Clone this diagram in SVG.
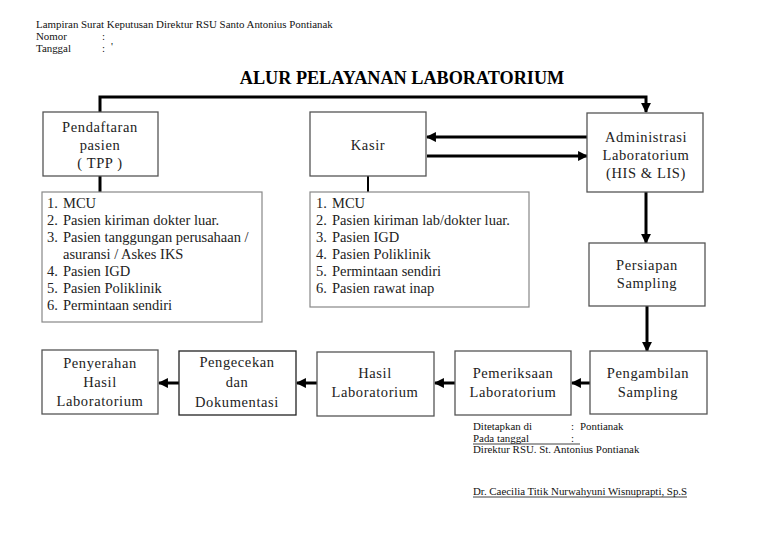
<svg xmlns="http://www.w3.org/2000/svg" width="768" height="543" viewBox="0 0 768 543">
<style>
.hd{font-family:"Liberation Serif",serif;font-size:10.9px;fill:#111}
.ft{font-family:"Liberation Serif",serif;font-size:10.9px;fill:#111}
.title{font-family:"Liberation Serif",serif;font-size:18.2px;font-weight:bold;fill:#000}
.box{fill:#fff;stroke:#555;stroke-width:1.3}
.lst{fill:#fff;stroke:#888;stroke-width:1.2}
.t{font-family:"Liberation Serif",serif;font-size:14.5px;fill:#222;text-anchor:middle;letter-spacing:0.6px}
.li{font-family:"Liberation Serif",serif;font-size:14.5px;fill:#222}
.c{fill:none;stroke:#000;stroke-width:3}
.thin{fill:none;stroke:#000;stroke-width:2}
</style>
<defs>
<marker id="ah" viewBox="0 0 10 10" refX="9" refY="5" markerWidth="3.3" markerHeight="3.3" orient="auto" markerUnits="strokeWidth">
<path d="M0,0 L10,5 L0,10 z" fill="#000"/>
</marker>
</defs>
<rect width="768" height="543" fill="#fff"/>
<g id="header">
<text class="hd" x="36" y="28">Lampiran Surat Keputusan Direktur RSU Santo Antonius Pontianak</text>
<text class="hd" x="36" y="40">Nomor</text>
<text class="hd" x="102" y="40">:</text>
<text class="hd" x="36" y="52">Tanggal</text>
<text class="hd" x="102" y="52">:</text>
<text class="hd" x="111" y="50">'</text>
<text class="title" x="402" y="84" text-anchor="middle">ALUR PELAYANAN LABORATORIUM</text>
</g>
<g id="connectors">
<path class="c" d="M100,112 V97 H646 V112" marker-end="url(#ah)"/>
<path class="c" d="M100,176 V192"/>
<path class="thin" d="M368,176 V192"/>
<path class="c" d="M587,137 H427" marker-end="url(#ah)"/>
<path class="c" d="M427,156 H587" marker-end="url(#ah)"/>
<path class="c" d="M646,192 V243" marker-end="url(#ah)"/>
<path class="c" d="M647,306 V351" marker-end="url(#ah)"/>
<path class="c" d="M590,383 H572" marker-end="url(#ah)"/>
<path class="c" d="M455,383 H435" marker-end="url(#ah)"/>
<path class="c" d="M317,383 H297" marker-end="url(#ah)"/>
<path class="c" d="M179,383 H159" marker-end="url(#ah)"/>
</g>
<g id="pendaftaran">
<rect class="box" x="43" y="112" width="115" height="64"/>
<text class="t" x="100" y="132">Pendaftaran</text>
<text class="t" x="100" y="150">pasien</text>
<text class="t" x="100" y="168">( TPP )</text>
</g>
<g id="kasir">
<rect class="box" x="310" y="112" width="116" height="64"/>
<text class="t" x="368" y="150">Kasir</text>
</g>
<g id="administrasi">
<rect class="box" x="587" y="113" width="116" height="79"/>
<text class="t" x="646" y="142">Administrasi</text>
<text class="t" x="646" y="160">Laboratorium</text>
<text class="t" x="646" y="178">(HIS &amp; LIS)</text>
</g>
<g id="list-pendaftaran">
<rect class="lst" x="42" y="192" width="220" height="130"/>
<text class="li" x="47" y="208">1.</text><text class="li" x="63" y="208">MCU</text>
<text class="li" x="47" y="225">2.</text><text class="li" x="63" y="225">Pasien kiriman dokter luar.</text>
<text class="li" x="47" y="242">3.</text><text class="li" x="63" y="242">Pasien tanggungan perusahaan /</text>
<text class="li" x="63" y="259">asuransi / Askes IKS</text>
<text class="li" x="47" y="276">4.</text><text class="li" x="63" y="276">Pasien IGD</text>
<text class="li" x="47" y="293">5.</text><text class="li" x="63" y="293">Pasien Poliklinik</text>
<text class="li" x="47" y="310">6.</text><text class="li" x="63" y="310">Permintaan sendiri</text>
</g>
<g id="list-kasir">
<rect class="lst" x="310" y="192" width="219" height="115"/>
<text class="li" x="316" y="208">1.</text><text class="li" x="332" y="208">MCU</text>
<text class="li" x="316" y="225">2.</text><text class="li" x="332" y="225">Pasien kiriman lab/dokter luar.</text>
<text class="li" x="316" y="242">3.</text><text class="li" x="332" y="242">Pasien IGD</text>
<text class="li" x="316" y="259">4.</text><text class="li" x="332" y="259">Pasien Poliklinik</text>
<text class="li" x="316" y="276">5.</text><text class="li" x="332" y="276">Permintaan sendiri</text>
<text class="li" x="316" y="293">6.</text><text class="li" x="332" y="293">Pasien rawat inap</text>
</g>
<g id="persiapan">
<rect class="box" x="589" y="243" width="116" height="63"/>
<text class="t" x="647" y="270">Persiapan</text>
<text class="t" x="647" y="288">Sampling</text>
</g>
<g id="pengambilan">
<rect class="box" x="590" y="351" width="117" height="63"/>
<text class="t" x="648" y="378">Pengambilan</text>
<text class="t" x="648" y="397">Sampling</text>
</g>
<g id="pemeriksaan">
<rect class="box" x="455" y="351" width="116" height="64"/>
<text class="t" x="513" y="378">Pemeriksaan</text>
<text class="t" x="513" y="397">Laboratorium</text>
</g>
<g id="hasil">
<rect class="box" x="317" y="352" width="117" height="64"/>
<text class="t" x="375" y="378">Hasil</text>
<text class="t" x="375" y="397">Laboratorium</text>
</g>
<g id="pengecekan">
<rect class="box" x="179" y="351" width="117" height="64" style="stroke:#222"/>
<text class="t" x="237" y="367">Pengecekan</text>
<text class="t" x="237" y="387">dan</text>
<text class="t" x="237" y="407">Dokumentasi</text>
</g>
<g id="penyerahan">
<rect class="box" x="42" y="350" width="116" height="64"/>
<text class="t" x="100" y="368">Penyerahan</text>
<text class="t" x="100" y="387">Hasil</text>
<text class="t" x="100" y="406">Laboratorium</text>
</g>
<g id="footer">
<text class="ft" x="473" y="430">Ditetapkan di</text>
<text class="ft" x="571" y="430">:</text>
<text class="ft" x="580" y="430">Pontianak</text>
<text class="ft" x="473" y="442">Pada tanggal</text>
<text class="ft" x="571" y="442">:</text>
<line x1="473" y1="444" x2="580" y2="444" stroke="#111" stroke-width="0.8"/>
<text class="ft" x="473" y="453">Direktur RSU. St. Antonius Pontianak</text>
<text class="ft" x="473" y="495">Dr. Caecilia Titik Nurwahyuni Wisnuprapti, Sp.S</text>
<line x1="473" y1="497" x2="687" y2="497" stroke="#111" stroke-width="0.8"/>
</g>
</svg>
